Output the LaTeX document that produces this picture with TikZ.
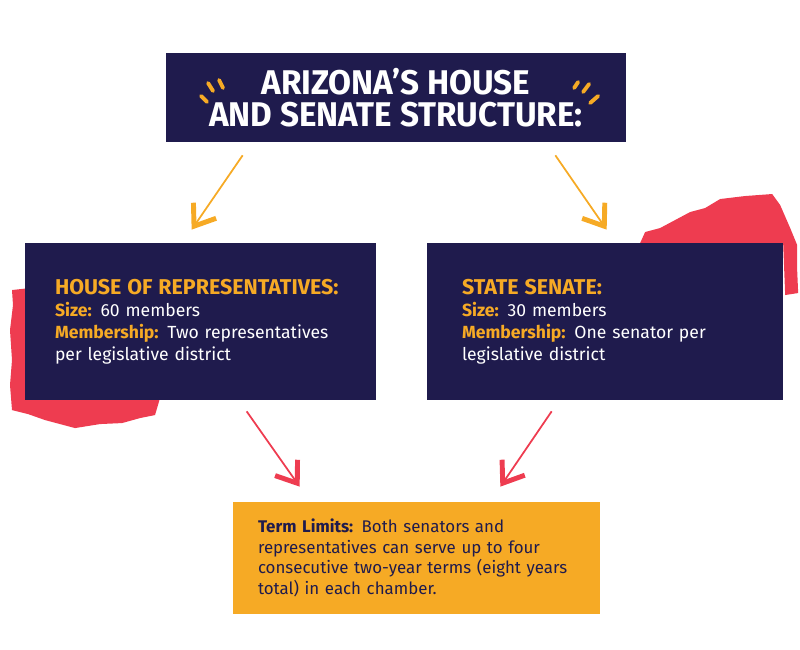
\documentclass[tikz,border=0pt]{standalone}
\usepackage{fontspec}
\setmainfont{Fira Sans}
\newfontfamily\titlefont{Fira Sans}[FakeStretch=0.97]
\usetikzlibrary{arrows.meta}
\definecolor{navy}{HTML}{1F1B4D}
\definecolor{gold}{HTML}{F6AA25}
\definecolor{coral}{HTML}{EE3C50}
\begin{document}
\begin{tikzpicture}[
    box/.style={fill=navy, text=white, align=left, minimum height=3.14cm,
      font=\fontsize{10}{12.6}\selectfont},
    goldarrow/.style={draw=gold, line width=1pt,
      -{Straight Barb[length=3.8mm,width=5.5mm,line width=2.8pt]}},
    redarrow/.style={draw=coral, line width=1pt,
      -{Straight Barb[length=3.8mm,width=5.5mm,line width=2.8pt]}}]
  \useasboundingbox (0,0) rectangle (16,13);
  % torn paper behind the boxes
  \begin{scope}[x=0.02cm, y=-0.02cm, shift={(0cm,13cm)}]
    \fill[coral] (30,288) -- (12,290) -- (13,305) -- (10,330) -- (12,360)
      -- (10,385) -- (12,410) -- (28,414) -- (45,420) -- (75,428)
      -- (100,424) -- (122,423) -- (140,418) -- (155,415) -- (160,398)
      -- (30,398) -- cycle;
    \fill[coral] (640,243) -- (645,232) -- (660,228) -- (690,212)
      -- (705,208) -- (720,199) -- (745,196) -- (772,194) -- (780,205)
      -- (790,228) -- (797,245) -- (797,270) -- (798,293) -- (785,295)
      -- (783,243) -- cycle;
  \end{scope}
  \node[fill=navy, text=white, minimum width=9.2cm, minimum height=1.78cm,
    align=center, font=\titlefont\bfseries\fontsize{19.5}{18}\selectfont]
    (title) at (7.92,11.05) {ARIZONA’S HOUSE\\AND SENATE STRUCTURE:};
  % sparkles
  \begin{scope}[x=0.02cm, y=-0.02cm, shift={(0cm,13cm)}, draw=gold,
      line width=2.2pt, line cap=round]
    \draw (201,96) -- (207,102);
    \draw (208,83) -- (213,91);
    \draw (219,80) -- (223,88);
    \draw (578,82) -- (574,88);
    \draw (589,84) -- (583,92);
    \draw (598,96) -- (590,103);
  \end{scope}
  \node[box, minimum width=7.02cm, text width=5.82cm, inner xsep=0.6cm]
    (house) at (4.01,6.57)
    {{\color{gold}\bfseries\fontsize{12.2}{13}\selectfont HOUSE OF REPRESENTATIVES:}\\
     {\color{gold}\bfseries Size:} 60 members\\
     {\color{gold}\bfseries Membership:} Two representatives\\
     per legislative district};
  \node[box, minimum width=7.12cm, text width=5.72cm, inner xsep=0.7cm]
    (senate) at (12.1,6.57)
    {{\color{gold}\bfseries\fontsize{12.2}{13}\selectfont STATE SENATE:}\\
     {\color{gold}\bfseries Size:} 30 members\\
     {\color{gold}\bfseries Membership:} One senator per\\
     legislative district};
  \node[fill=gold, text=navy, align=left, minimum width=7.34cm,
    minimum height=2.24cm, text width=6.34cm, inner xsep=0.5cm,
    font=\fontsize{9.6}{11.7}\selectfont]
    (term) at (8.33,1.84)
    {\textbf{Term Limits:} Both senators and\\
     representatives can serve up to four\\
     consecutive two-year terms (eight years\\
     total) in each chamber.};
  \draw[goldarrow] ([xshift=1.54cm,yshift=-0.26cm]title.south west)
    -- ([xshift=3.34cm,yshift=0.26cm]house.north west);
  \draw[goldarrow] ([xshift=-1.42cm,yshift=-0.26cm]title.south east)
    -- ([xshift=3.6cm,yshift=0.26cm]senate.north west);
  \draw[redarrow] ([xshift=4.44cm,yshift=-0.22cm]house.south west)
    -- ([xshift=1.34cm,yshift=0.3cm]term.north west);
  \draw[redarrow] ([xshift=2.5cm,yshift=-0.22cm]senate.south west)
    -- ([xshift=-2cm,yshift=0.3cm]term.north east);
\end{tikzpicture}
\end{document}
